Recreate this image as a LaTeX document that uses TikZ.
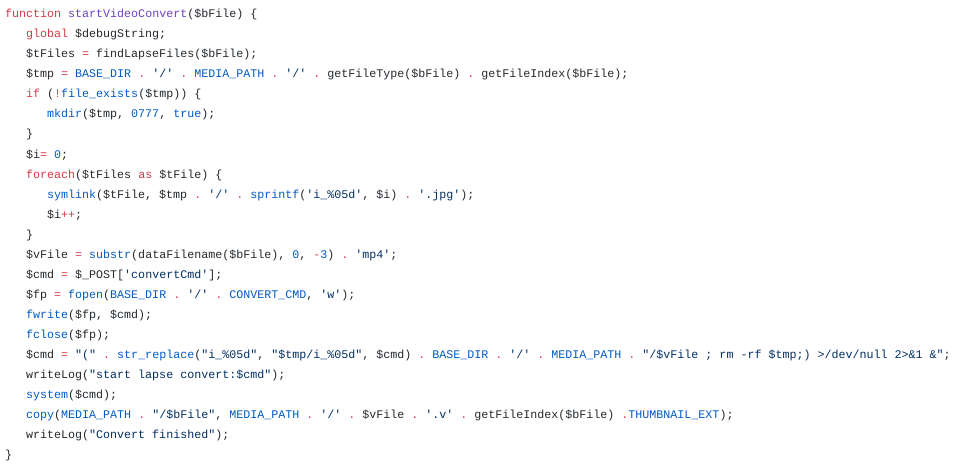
\documentclass[tikz,border=0pt]{standalone}
\usepackage{fontspec}
\setmonofont{Liberation Mono}
\definecolor{ckw}{HTML}{D73A49}
\definecolor{cfn}{HTML}{6F42C1}
\definecolor{cbl}{HTML}{005CC5}
\definecolor{cst}{HTML}{032F62}
\definecolor{ctx}{HTML}{24292E}
\newcommand{\kw}[1]{\textcolor{ckw}{#1}}
\newcommand{\fn}[1]{\textcolor{cfn}{#1}}
\newcommand{\cb}[1]{\textcolor{cbl}{#1}}
\newcommand{\st}[1]{\textcolor{cst}{#1}}
\tikzset{codeline/.style={anchor=base west,inner sep=0pt,text=ctx,font=\ttfamily\fontsize{11.67pt}{14pt}\selectfont}}
\begin{document}
\begin{tikzpicture}[x=1pt,y=-1pt]
\useasboundingbox (0,0) rectangle (958,468);
\fill[white] (0,0) rectangle (958,468);
\def\L#1#2#3{\node[codeline] (l#1) at ({5+7*#2},{18+20*(#1-1)}) {#3};}
\L{1}{0}{\kw{function} \fn{startVideoConvert}(\$bFile) \{}
\L{2}{3}{\kw{global} \$debugString;}
\L{3}{3}{\$tFiles \kw{=} findLapseFiles(\$bFile);}
\L{4}{3}{\$tmp \kw{=} \cb{BASE\_DIR} \kw{.} \st{'/'} \kw{.} \cb{MEDIA\_PATH} \kw{.} \st{'/'} \kw{.} getFileType(\$bFile) \kw{.} getFileIndex(\$bFile);}
\L{5}{3}{\kw{if} (\kw{!}\cb{file\_exists}(\$tmp)) \{}
\L{6}{6}{\cb{mkdir}(\$tmp, \cb{0777}, \cb{true});}
\L{7}{3}{\}}
\L{8}{3}{\$i\kw{=} \cb{0};}
\L{9}{3}{\kw{foreach}(\$tFiles \kw{as} \$tFile) \{}
\L{10}{6}{\cb{symlink}(\$tFile, \$tmp \kw{.} \st{'/'} \kw{.} \cb{sprintf}(\st{'i\_\%05d'}, \$i) \kw{.} \st{'.jpg'});}
\L{11}{6}{\$i\kw{++};}
\L{12}{3}{\}}
\L{13}{3}{\$vFile \kw{=} \cb{substr}(dataFilename(\$bFile), \cb{0}, \kw{-}\cb{3}) \kw{.} \st{'mp4'};}
\L{14}{3}{\$cmd \kw{=} \$\_POST[\st{'convertCmd'}];}
\L{15}{3}{\$fp \kw{=} \cb{fopen}(\cb{BASE\_DIR} \kw{.} \st{'/'} \kw{.} \cb{CONVERT\_CMD}, \st{'w'});}
\L{16}{3}{\cb{fwrite}(\$fp, \$cmd);}
\L{17}{3}{\cb{fclose}(\$fp);}
\L{18}{3}{\$cmd \kw{=} \st{"("} \kw{.} \cb{str\_replace}(\st{"i\_\%05d"}, \st{"\$tmp/i\_\%05d"}, \$cmd) \kw{.} \cb{BASE\_DIR} \kw{.} \st{'/'} \kw{.} \cb{MEDIA\_PATH} \kw{.} \st{"/\$vFile ; rm -rf \$tmp;) >/dev/null 2>\&1 \&"};}
\L{19}{3}{writeLog(\st{"start lapse convert:\$cmd"});}
\L{20}{3}{\cb{system}(\$cmd);}
\L{21}{3}{\cb{copy}(\cb{MEDIA\_PATH} \kw{.} \st{"/\$bFile"}, \cb{MEDIA\_PATH} \kw{.} \st{'/'} \kw{.} \$vFile \kw{.} \st{'.v'} \kw{.} getFileIndex(\$bFile) \kw{.}\cb{THUMBNAIL\_EXT});}
\L{22}{3}{writeLog(\st{"Convert finished"});}
\L{23}{0}{\}}
\end{tikzpicture}
\end{document}
